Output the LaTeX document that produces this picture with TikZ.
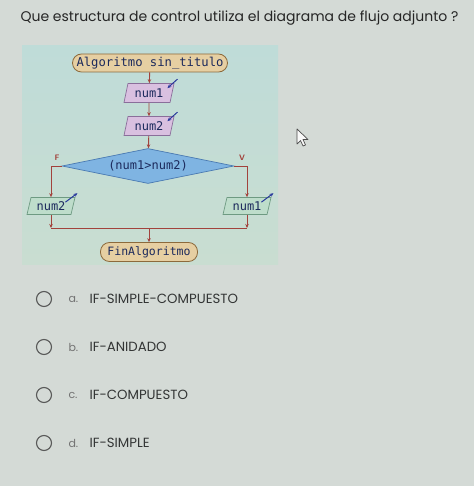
\documentclass[tikz,border=0pt]{standalone}
\usepackage{fontspec}
\setmainfont{Poppins}
\newfontfamily\flowfont{DejaVu Sans Mono}
\usetikzlibrary{shapes.geometric,arrows.meta}
\definecolor{pagebg}{HTML}{D4DAD6}
\definecolor{panelbg}{HTML}{BFDCD8}
\definecolor{panelbot}{HTML}{C9DDD1}
\definecolor{startfill}{HTML}{E6CFA2}
\definecolor{startline}{HTML}{8C6A3C}
\definecolor{infill}{HTML}{D9C0E0}
\definecolor{inline}{HTML}{8A6E9A}
\definecolor{outfill}{HTML}{BEDDCB}
\definecolor{outline}{HTML}{6E9A82}
\definecolor{condfill}{HTML}{7FB4E2}
\definecolor{condline}{HTML}{4A7AB2}
\definecolor{flowline}{HTML}{A2423C}
\definecolor{flowtext}{HTML}{1C2A5C}
\definecolor{iconblue}{HTML}{2A3A9C}
\definecolor{answertext}{HTML}{333535}

\begin{document}
\begin{tikzpicture}[x=1pt,y=-1pt,
    terminal/.style={draw=startline,fill=startfill,rounded corners=9pt,line width=0.8pt,
        minimum height=18pt,inner sep=0pt,font=\flowfont\fontsize{12.2}{13}\selectfont,text=flowtext},
    inbox/.style={trapezium,trapezium left angle=70,trapezium right angle=110,
        trapezium stretches body=true,draw=inline,fill=infill,
        line width=0.7pt,minimum width=50pt,minimum height=19pt,inner sep=1pt,
        font=\flowfont\fontsize{12}{13}\selectfont,text=flowtext},
    outbox/.style={inbox,draw=outline,fill=outfill,minimum width=48pt,minimum height=17pt},
    condbox/.style={diamond,draw=condline,fill=condfill,line width=0.7pt,aspect=4.9,
        minimum width=172pt,minimum height=35pt,inner sep=0pt,
        font=\flowfont\fontsize{12}{13}\selectfont,text=flowtext},
    flow/.style={draw=flowline,line width=0.9pt,-{Stealth[length=4pt,width=3.5pt]}},
    flowplain/.style={draw=flowline,line width=0.9pt},
    icon/.style={draw=iconblue,line width=1pt,-{Stealth[length=4pt,width=3.5pt]}},
    branch/.style={font=\sffamily\bfseries\fontsize{8}{9}\selectfont,text=flowline},
    option/.style={circle,draw=black!65,line width=1.1pt,minimum size=15pt,inner sep=0pt},
    letter/.style={anchor=west,text=black!55,font=\fontsize{11}{12}\selectfont},
    answer/.style={anchor=west,text=answertext,font=\fontsize{13.3}{15}\selectfont}]
\fill[pagebg] (0,0) rectangle (474,486);
\useasboundingbox (0,0) rectangle (474,486);
% question
\node[anchor=west,text=black!85,font=\fontsize{14}{16}\selectfont] (question) at (17,18)
    {Que estructura de control utiliza el diagrama de flujo adjunto ?};
% flowchart panel
\shade[top color=panelbg,bottom color=panelbot] (22,46) rectangle (278,264);
\node[terminal,minimum width=155pt] (start) at (150,63) {Algoritmo sin{\char"5F}titulo};
\node[inbox] (num1) at (149,93) {num1};
\node[inbox] (num2) at (149,126) {num2};
\node[condbox] (cond) at (148,166) {(num1>num2)};
\node[outbox] (num2out) at (51,206) {num2};
\node[outbox] (num1out) at (247,206) {num1};
\node[terminal,minimum width=97pt,minimum height=19pt,font=\flowfont\fontsize{11.5}{12}\selectfont] (fin) at (149,252) {FinAlgoritmo};
\node[branch] (labelF) at (57,158) {F};
\node[branch] (labelV) at (242,158) {V};
\coordinate (joinL) at (51,228);
\coordinate (joinR) at (247,228);
\coordinate (joinM) at (149,228);
% connectors
\draw[flow] (start) -- (num1);
\draw[flow] (num1) -- (num2);
\draw[flow] (num2) -- (cond);
\draw[flow] (cond.west) -| (num2out.north);
\draw[flow] (cond.east) -| (num1out.north);
\draw[flow] (num2out) -- (joinL);
\draw[flow] (num1out) -- (joinR);
\draw[flowplain] (joinL) -- (joinR);
\draw[flow] (joinM) -- (fin);
% read / write marks
\foreach \n in {num1,num2}
    \draw[icon] ([xshift=3pt,yshift=4pt]\n.top right corner) -- ([xshift=-7pt,yshift=-5pt]\n.top right corner);
\foreach \n in {num1out,num2out}
    \draw[icon] ([xshift=-10pt,yshift=-5pt]\n.top right corner) -- ([xshift=2pt,yshift=4pt]\n.top right corner);
% mouse pointer
\draw[draw=black!70,fill=white!85!pagebg,line width=0.7pt,line join=round]
    (297,129) -- (297,144) -- (300.5,140.5) -- (303,146) -- (305.5,145) -- (303,139.5) -- (308,139.5) -- cycle;
% options
\foreach \y/\l/\t [count=\i] in {299/a./IF-SIMPLE-COMPUESTO,347/b./IF-ANIDADO,395/c./IF-COMPUESTO,443/d./IF-SIMPLE}{
    \node[option] (opt\i) at (44,\y) {};
    \node[letter] (let\i) at (65,\y) {\l};
    \node[answer] (ans\i) at (86,\y) {\t};
}
\end{tikzpicture}
\end{document}
